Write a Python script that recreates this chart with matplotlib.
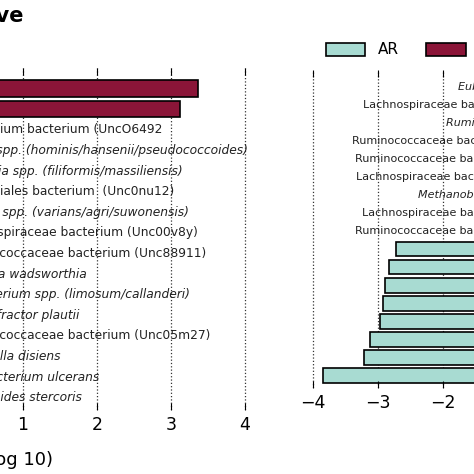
import matplotlib.pyplot as plt
import matplotlib.patches as mpatches

W = H = 474
TD_COLOR = "#8b1538"
AR_COLOR = "#a8dbd2"

# Left panel
left_td_values = [3.37, 3.12]
left_ar_labels = [
    "Clostridium bacterium (UncO6492",
    "Rothia spp. (hominis/hansenii/pseudococcoides)",
    "Gordonia spp. (filiformis/massiliensis)",
    "Clostridiales bacterium  (Unc0nu12)",
    "Kocuria spp. (varians/agri/suwonensis)",
    "Lachnospiraceae bacterium (Unc00v8y)",
    "Ruminococcaceae bacterium (Unc88911)",
    "Bilophila wadsworthia",
    "Eubacterium spp. (limosum/callanderi)",
    "Flavonifractor plautii",
    "Ruminococcaceae bacterium (Unc05m27)",
    "Prevotella disiens",
    "Fusobacterium ulcerans",
    "Bacteroides stercoris",
]
left_ar_italic = [False, True, True, False, True, False, False, True, True, True, False, True, True, True]

# Right panel
right_td_labels = [
    "Eubacterium rectale",
    "Lachnospiraceae bacterium (Unc9k1)",
    "Ruminococcus callidus",
    "Ruminococcaceae bacterium (Unc5qm)",
    "Ruminococcaceae bacterium (Unc52g)",
    "Lachnospiraceae bacterium (Unc1a8c)",
    "Methanobrevibacter smithii",
    "Lachnospiraceae bacterium (Unc8p4)",
    "Ruminococcaceae bacterium (Unc03q)",
]
right_td_italic = [True, False, True, False, False, False, True, False, False]
right_ar_values = [-2.72, -2.83, -2.90, -2.92, -2.97, -3.12, -3.22, -3.85]

fig = plt.figure(figsize=(4.74, 4.74), dpi=100)

def style(ax, ticks):
    for s in ax.spines.values():
        s.set_visible(False)
    ax.set_yticks([])
    ax.set_xticks(ticks)
    ax.tick_params(axis="x", top=True, bottom=True, direction="in", length=5,
                   width=0.8, labelsize=12.5, pad=4)
    for t in ticks:
        ax.axvline(t, color="#333333", ls=":", lw=0.9, zorder=0)

# left axes: 0 at px -51, 74 px per unit; rows 88..398
lx0, lx1 = 0, 4.3
axL = fig.add_axes([-51 / W, (H - 410) / H, (lx1 - lx0) * 74 / W, (410 - 68) / H])
axL.set_xlim(lx0, lx1)
axL.set_ylim(15.6, -1)
style(axL, [1, 2, 3, 4])
axL.barh(range(len(left_td_values)), left_td_values, height=0.8, color=TD_COLOR,
         edgecolor="black", lw=1.2)
for i, (lab, it) in enumerate(zip(left_ar_labels, left_ar_italic)):
    axL.text(0.05, i + 2, lab, ha="left", va="center", fontsize=8.8,
             style="italic" if it else "normal", color="#222222")
axL.set_xticklabels(["1", "2", "3", "4"])
fig.text(-36 / W, 1 - 460 / H, "LDA SCORE (log 10)", ha="center", va="center", fontsize=13)
fig.text(24 / W, 1 - 16 / H, "Negative", ha="right", va="center", fontsize=15, fontweight="bold")

# right axes: 0 at px 573, 65 px per unit; rows 87..376
rx0, rx1 = -4.2, 0
axR = fig.add_axes([(573 - 4.2 * 65) / W, (H - 388) / H, 4.2 * 65 / W, (388 - 70) / H])
axR.set_xlim(rx0, rx1)
axR.set_ylim(16.7, -0.95)
style(axR, [-4, -3, -2, -1])
axR.set_xticklabels(["\u22124", "\u22123", "\u22122", "\u22121"])
n = len(right_td_labels)
axR.barh([n + i for i in range(len(right_ar_values))], right_ar_values, height=0.8,
         color=AR_COLOR, edgecolor="black", lw=1.2)
for i, (lab, it) in enumerate(zip(right_td_labels, right_td_italic)):
    axR.text(-0.02, i, lab, ha="right", va="center", fontsize=8,
             style="italic" if it else "normal", color="#222222")

handles = [mpatches.Patch(facecolor=AR_COLOR, edgecolor="black", lw=1.2, label="AR"),
           mpatches.Patch(facecolor=TD_COLOR, edgecolor="black", lw=1.2, label="TD")]
fig.legend(handles=handles, ncol=2, loc="center left", bbox_to_anchor=(312 / W, 1 - 50 / H),
           frameon=False, fontsize=11, handlelength=2.6, handleheight=0.9, columnspacing=1.8)

fig.savefig("out.png", dpi=100)
